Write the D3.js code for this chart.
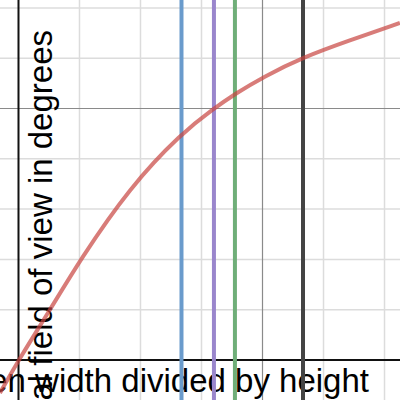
<!DOCTYPE html><html><head><meta charset="utf-8">
<script src="https://cdn.jsdelivr.net/npm/d3@7"></script>
<style>body{margin:0;background:#fff}svg{display:block}</style></head><body>
<svg id="c" width="400" height="400"></svg>
<script>
const curveX=[-0.076,0,0.129,0.252,0.457,0.668,0.801,0.887,1.004,1.166,1.359,1.563];
const curveY=[-6.56,0,9.94,19.9,34.4,45.1,50,52.9,56.3,60.2,63.6,67.0];
const markerX=[0.668,0.801,0.887,1.166];
const markerColors=["#6a9bcc","#9a86cc","#6fae78","#444444"];
const xMinor=[0.25,0.5,0.75,1.25,1.5], xMajor=[1.0];
const yMinor=[-10,10,20,30,40,60,70], yMajor=[50];
const xLabel="Screen width divided by height", yLabel="Horizontal field of view in degrees";
const svg=d3.select("#c");
const x=d3.scaleLinear().domain([-0.0758,1.5635]).range([0,400]);
const y=d3.scaleLinear().domain([-7.95,71.57]).range([400,0]);
const vl=(v,c,w)=>svg.append("line").attr("x1",x(v)).attr("x2",x(v)).attr("y1",0).attr("y2",400).attr("stroke",c).attr("stroke-width",w);
const hl=(v,c,w)=>svg.append("line").attr("y1",y(v)).attr("y2",y(v)).attr("x1",0).attr("x2",400).attr("stroke",c).attr("stroke-width",w);
xMinor.forEach(v=>vl(v,"#dcdcdc",1.5));yMinor.forEach(v=>hl(v,"#dcdcdc",1.5));
xMajor.forEach(v=>vl(v,"#8a8a8a",1.2));yMajor.forEach(v=>hl(v,"#8a8a8a",1.2));
vl(0,"#111",2);hl(0,"#111",2);
svg.append("text").attr("transform",`translate(52,30) rotate(-90)`).attr("text-anchor","end")
 .attr("font-family","Liberation Sans, Arial").attr("font-size",33).attr("fill","#000").text(yLabel);
svg.append("text").attr("x",369).attr("y",392).attr("text-anchor","end")
 .attr("font-family","Liberation Sans, Arial").attr("font-size",33).attr("fill","#000").text(xLabel);
markerX.forEach((v,i)=>vl(v,markerColors[i],4));
svg.append("path").datum(curveX.map((v,i)=>[v,curveY[i]])).attr("fill","none").attr("stroke","#c74440").attr("stroke-opacity",0.7).attr("stroke-width",4)
 .attr("d",d3.line().x(d=>x(d[0])).y(d=>y(d[1])).curve(d3.curveBasis));
</script></body></html>
